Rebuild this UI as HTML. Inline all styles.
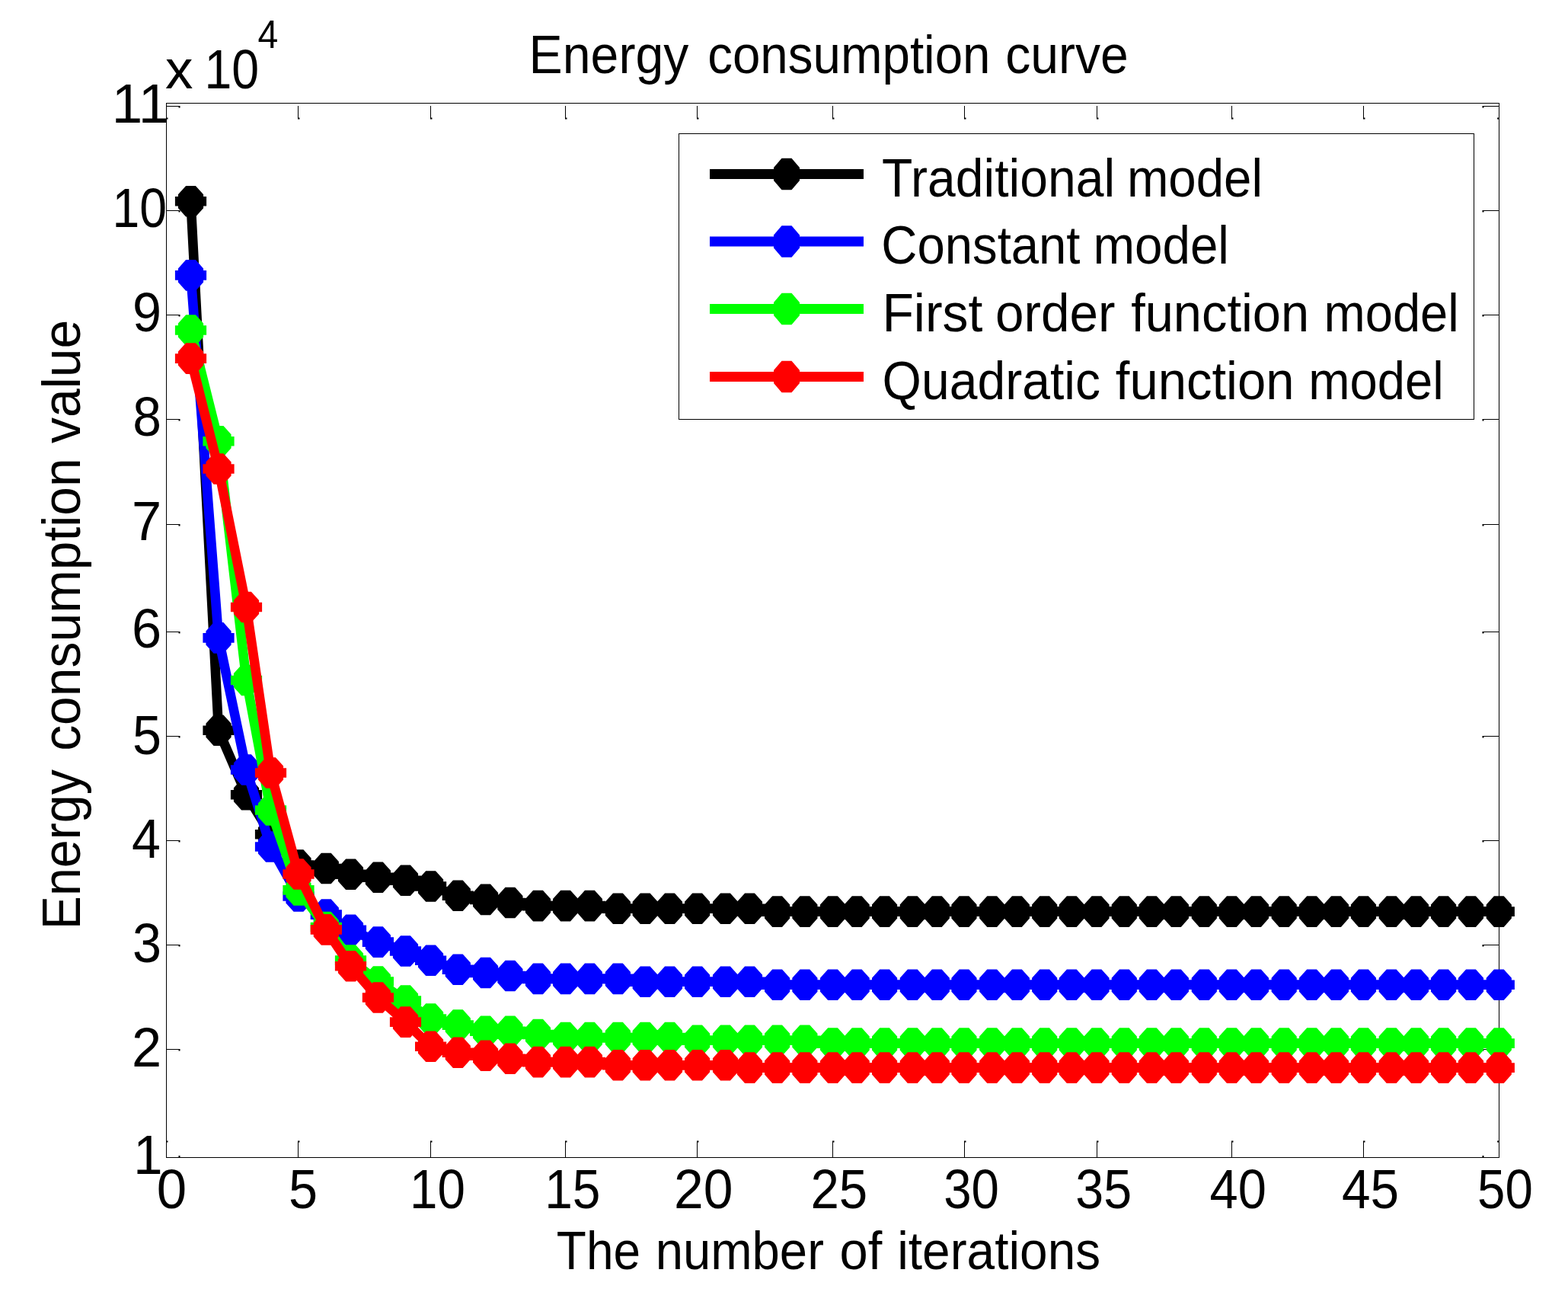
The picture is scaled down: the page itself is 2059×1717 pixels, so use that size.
<!DOCTYPE html>
<html><head><meta charset="utf-8"><title>Energy consumption curve</title>
<style>html,body{margin:0;padding:0;background:#fff;}svg{display:block;}</style>
</head><body>
<svg width="2059" height="1717" viewBox="0 0 2059 1717">
<rect x="0" y="0" width="2059" height="1717" fill="#fff"/>
<rect x="218.5" y="135.5" width="1750.0" height="1384.0" fill="none" stroke="#000" stroke-width="1" shape-rendering="crispEdges"/>
<path d="M218.5,139V156M218.5,1499V1519M391.5,139V156M391.5,1499V1519M565.5,139V156M565.5,1499V1519M742.5,139V156M742.5,1499V1519M915.5,139V156M915.5,1499V1519M1093.5,139V156M1093.5,1499V1519M1266.5,139V156M1266.5,1499V1519M1440.5,139V156M1440.5,1499V1519M1617.5,139V156M1617.5,1499V1519M1790.5,139V156M1790.5,1499V1519M1968.5,139V156M1968.5,1499V1519M219,139.5H236M1947,139.5H1968M219,276.5H236M1947,276.5H1968M219,413.5H236M1947,413.5H1968M219,550.5H236M1947,550.5H1968M219,688.5H236M1947,688.5H1968M219,829.5H236M1947,829.5H1968M219,966.5H236M1947,966.5H1968M219,1103.5H236M1947,1103.5H1968M219,1240.5H236M1947,1240.5H1968M219,1377.5H236M1947,1377.5H1968M219,1519.5H236M1947,1519.5H1968" stroke="#000" stroke-width="1" fill="none" shape-rendering="crispEdges"/>
<path d="M218,154.5h2.5v2h-2.5zM218,1497.5h2.5v2h-2.5zM391,154.5h2.5v2h-2.5zM391,1497.5h2.5v2h-2.5zM565,154.5h2.5v2h-2.5zM565,1497.5h2.5v2h-2.5zM742,154.5h2.5v2h-2.5zM742,1497.5h2.5v2h-2.5zM915,154.5h2.5v2h-2.5zM915,1497.5h2.5v2h-2.5zM1093,154.5h2.5v2h-2.5zM1093,1497.5h2.5v2h-2.5zM1266,154.5h2.5v2h-2.5zM1266,1497.5h2.5v2h-2.5zM1440,154.5h2.5v2h-2.5zM1440,1497.5h2.5v2h-2.5zM1617,154.5h2.5v2h-2.5zM1617,1497.5h2.5v2h-2.5zM1790,154.5h2.5v2h-2.5zM1790,1497.5h2.5v2h-2.5zM1966,154.5h2.5v2h-2.5zM1966,1497.5h2.5v2h-2.5zM234.5,139h2v2.5h-2zM1946.5,139h2v2.5h-2zM234.5,276h2v2.5h-2zM1946.5,276h2v2.5h-2zM234.5,413h2v2.5h-2zM1946.5,413h2v2.5h-2zM234.5,550h2v2.5h-2zM1946.5,550h2v2.5h-2zM234.5,688h2v2.5h-2zM1946.5,688h2v2.5h-2zM234.5,829h2v2.5h-2zM1946.5,829h2v2.5h-2zM234.5,966h2v2.5h-2zM1946.5,966h2v2.5h-2zM234.5,1103h2v2.5h-2zM1946.5,1103h2v2.5h-2zM234.5,1240h2v2.5h-2zM1946.5,1240h2v2.5h-2zM234.5,1377h2v2.5h-2zM1946.5,1377h2v2.5h-2zM234.5,1517h2v2.5h-2zM1946.5,1517h2v2.5h-2z" fill="#000"/>
<polyline points="250.5,264.3 287,958.7 323.5,1043.3 355.5,1095.3 392,1135.5 428.3,1140 460.5,1147.7 496.4,1151.8 532.5,1155.8 565.6,1163.5 601.3,1175.7 637.6,1180.9 669.9,1185.0 706.5,1189.1 742.6,1189.1 774.4,1189.1 811.4,1192.7 847.2,1192.7 879.5,1192.7 915.6,1192.7 952.5,1192.7 984.5,1192.7 1020.6,1196.6 1056.9,1196.6 1093.6,1196.6 1125.2,1196.6 1161.6,1196.6 1198.3,1196.6 1230.3,1196.6 1266,1196.6 1302.7,1196.6 1335.4,1196.6 1371.7,1196.6 1407.3,1196.6 1440,1196.6 1476.3,1196.6 1512.4,1196.6 1544.4,1196.6 1581.3,1196.6 1617.4,1196.6 1649.5,1196.6 1686.2,1196.6 1722.6,1196.6 1754.5,1196.6 1790.5,1196.6 1827.2,1196.6 1859.5,1196.6 1895.6,1196.6 1931.5,1196.6 1968.3,1196.6" fill="none" stroke="#000" stroke-width="12.6" stroke-linejoin="round"/>
<path d="M244.1,244.0L256.9,244.0L267.1,255.3L267.1,258.0L271.1,258.0L271.1,270.6L267.1,270.6L267.1,273.3L256.9,284.6L244.1,284.6L233.9,273.3L233.9,270.6L229.9,270.6L229.9,258.0L233.9,258.0L233.9,255.3ZM280.6,938.4L293.4,938.4L303.6,949.7L303.6,952.4L307.6,952.4L307.6,965.0L303.6,965.0L303.6,967.7L293.4,979.0L280.6,979.0L270.4,967.7L270.4,965.0L266.4,965.0L266.4,952.4L270.4,952.4L270.4,949.7ZM317.1,1023.0L329.9,1023.0L340.1,1034.3L340.1,1037.0L344.1,1037.0L344.1,1049.6L340.1,1049.6L340.1,1052.3L329.9,1063.6L317.1,1063.6L306.9,1052.3L306.9,1049.6L302.9,1049.6L302.9,1037.0L306.9,1037.0L306.9,1034.3ZM349.1,1075.0L361.9,1075.0L372.1,1086.3L372.1,1089.0L376.1,1089.0L376.1,1101.6L372.1,1101.6L372.1,1104.3L361.9,1115.6L349.1,1115.6L338.9,1104.3L338.9,1101.6L334.9,1101.6L334.9,1089.0L338.9,1089.0L338.9,1086.3ZM385.6,1115.2L398.4,1115.2L408.6,1126.5L408.6,1129.2L412.6,1129.2L412.6,1141.8L408.6,1141.8L408.6,1144.5L398.4,1155.8L385.6,1155.8L375.4,1144.5L375.4,1141.8L371.4,1141.8L371.4,1129.2L375.4,1129.2L375.4,1126.5ZM421.9,1119.7L434.7,1119.7L444.9,1131.0L444.9,1133.7L448.9,1133.7L448.9,1146.3L444.9,1146.3L444.9,1149.0L434.7,1160.3L421.9,1160.3L411.7,1149.0L411.7,1146.3L407.7,1146.3L407.7,1133.7L411.7,1133.7L411.7,1131.0ZM454.1,1127.4L466.9,1127.4L477.1,1138.7L477.1,1141.4L481.1,1141.4L481.1,1154.0L477.1,1154.0L477.1,1156.7L466.9,1168.0L454.1,1168.0L443.9,1156.7L443.9,1154.0L439.9,1154.0L439.9,1141.4L443.9,1141.4L443.9,1138.7ZM490.0,1131.5L502.8,1131.5L513.0,1142.8L513.0,1145.5L517.0,1145.5L517.0,1158.1L513.0,1158.1L513.0,1160.8L502.8,1172.1L490.0,1172.1L479.8,1160.8L479.8,1158.1L475.8,1158.1L475.8,1145.5L479.8,1145.5L479.8,1142.8ZM526.1,1135.5L538.9,1135.5L549.1,1146.8L549.1,1149.5L553.1,1149.5L553.1,1162.1L549.1,1162.1L549.1,1164.8L538.9,1176.1L526.1,1176.1L515.9,1164.8L515.9,1162.1L511.9,1162.1L511.9,1149.5L515.9,1149.5L515.9,1146.8ZM559.2,1143.2L572.0,1143.2L582.2,1154.5L582.2,1157.2L586.2,1157.2L586.2,1169.8L582.2,1169.8L582.2,1172.5L572.0,1183.8L559.2,1183.8L549.0,1172.5L549.0,1169.8L545.0,1169.8L545.0,1157.2L549.0,1157.2L549.0,1154.5ZM594.9,1155.4L607.7,1155.4L617.9,1166.7L617.9,1169.4L621.9,1169.4L621.9,1182.0L617.9,1182.0L617.9,1184.7L607.7,1196.0L594.9,1196.0L584.7,1184.7L584.7,1182.0L580.7,1182.0L580.7,1169.4L584.7,1169.4L584.7,1166.7ZM631.2,1160.6L644.0,1160.6L654.2,1171.9L654.2,1174.6L658.2,1174.6L658.2,1187.2L654.2,1187.2L654.2,1189.9L644.0,1201.2L631.2,1201.2L621.0,1189.9L621.0,1187.2L617.0,1187.2L617.0,1174.6L621.0,1174.6L621.0,1171.9ZM663.5,1164.7L676.3,1164.7L686.5,1176.0L686.5,1178.7L690.5,1178.7L690.5,1191.3L686.5,1191.3L686.5,1194.0L676.3,1205.3L663.5,1205.3L653.3,1194.0L653.3,1191.3L649.3,1191.3L649.3,1178.7L653.3,1178.7L653.3,1176.0ZM700.1,1168.8L712.9,1168.8L723.1,1180.1L723.1,1182.8L727.1,1182.8L727.1,1195.4L723.1,1195.4L723.1,1198.1L712.9,1209.4L700.1,1209.4L689.9,1198.1L689.9,1195.4L685.9,1195.4L685.9,1182.8L689.9,1182.8L689.9,1180.1ZM736.2,1168.8L749.0,1168.8L759.2,1180.1L759.2,1182.8L763.2,1182.8L763.2,1195.4L759.2,1195.4L759.2,1198.1L749.0,1209.4L736.2,1209.4L726.0,1198.1L726.0,1195.4L722.0,1195.4L722.0,1182.8L726.0,1182.8L726.0,1180.1ZM768.0,1168.8L780.8,1168.8L791.0,1180.1L791.0,1182.8L795.0,1182.8L795.0,1195.4L791.0,1195.4L791.0,1198.1L780.8,1209.4L768.0,1209.4L757.8,1198.1L757.8,1195.4L753.8,1195.4L753.8,1182.8L757.8,1182.8L757.8,1180.1ZM805.0,1172.4L817.8,1172.4L828.0,1183.7L828.0,1186.4L832.0,1186.4L832.0,1199.0L828.0,1199.0L828.0,1201.7L817.8,1213.0L805.0,1213.0L794.8,1201.7L794.8,1199.0L790.8,1199.0L790.8,1186.4L794.8,1186.4L794.8,1183.7ZM840.8,1172.4L853.6,1172.4L863.8,1183.7L863.8,1186.4L867.8,1186.4L867.8,1199.0L863.8,1199.0L863.8,1201.7L853.6,1213.0L840.8,1213.0L830.6,1201.7L830.6,1199.0L826.6,1199.0L826.6,1186.4L830.6,1186.4L830.6,1183.7ZM873.1,1172.4L885.9,1172.4L896.1,1183.7L896.1,1186.4L900.1,1186.4L900.1,1199.0L896.1,1199.0L896.1,1201.7L885.9,1213.0L873.1,1213.0L862.9,1201.7L862.9,1199.0L858.9,1199.0L858.9,1186.4L862.9,1186.4L862.9,1183.7ZM909.2,1172.4L922.0,1172.4L932.2,1183.7L932.2,1186.4L936.2,1186.4L936.2,1199.0L932.2,1199.0L932.2,1201.7L922.0,1213.0L909.2,1213.0L899.0,1201.7L899.0,1199.0L895.0,1199.0L895.0,1186.4L899.0,1186.4L899.0,1183.7ZM946.1,1172.4L958.9,1172.4L969.1,1183.7L969.1,1186.4L973.1,1186.4L973.1,1199.0L969.1,1199.0L969.1,1201.7L958.9,1213.0L946.1,1213.0L935.9,1201.7L935.9,1199.0L931.9,1199.0L931.9,1186.4L935.9,1186.4L935.9,1183.7ZM978.1,1172.4L990.9,1172.4L1001.1,1183.7L1001.1,1186.4L1005.1,1186.4L1005.1,1199.0L1001.1,1199.0L1001.1,1201.7L990.9,1213.0L978.1,1213.0L967.9,1201.7L967.9,1199.0L963.9,1199.0L963.9,1186.4L967.9,1186.4L967.9,1183.7ZM1014.2,1176.3L1027.0,1176.3L1037.2,1187.6L1037.2,1190.3L1041.2,1190.3L1041.2,1202.9L1037.2,1202.9L1037.2,1205.6L1027.0,1216.9L1014.2,1216.9L1004.0,1205.6L1004.0,1202.9L1000.0,1202.9L1000.0,1190.3L1004.0,1190.3L1004.0,1187.6ZM1050.5,1176.3L1063.3,1176.3L1073.5,1187.6L1073.5,1190.3L1077.5,1190.3L1077.5,1202.9L1073.5,1202.9L1073.5,1205.6L1063.3,1216.9L1050.5,1216.9L1040.3,1205.6L1040.3,1202.9L1036.3,1202.9L1036.3,1190.3L1040.3,1190.3L1040.3,1187.6ZM1087.2,1176.3L1100.0,1176.3L1110.2,1187.6L1110.2,1190.3L1114.2,1190.3L1114.2,1202.9L1110.2,1202.9L1110.2,1205.6L1100.0,1216.9L1087.2,1216.9L1077.0,1205.6L1077.0,1202.9L1073.0,1202.9L1073.0,1190.3L1077.0,1190.3L1077.0,1187.6ZM1118.8,1176.3L1131.6,1176.3L1141.8,1187.6L1141.8,1190.3L1145.8,1190.3L1145.8,1202.9L1141.8,1202.9L1141.8,1205.6L1131.6,1216.9L1118.8,1216.9L1108.6,1205.6L1108.6,1202.9L1104.6,1202.9L1104.6,1190.3L1108.6,1190.3L1108.6,1187.6ZM1155.2,1176.3L1168.0,1176.3L1178.2,1187.6L1178.2,1190.3L1182.2,1190.3L1182.2,1202.9L1178.2,1202.9L1178.2,1205.6L1168.0,1216.9L1155.2,1216.9L1145.0,1205.6L1145.0,1202.9L1141.0,1202.9L1141.0,1190.3L1145.0,1190.3L1145.0,1187.6ZM1191.9,1176.3L1204.7,1176.3L1214.9,1187.6L1214.9,1190.3L1218.9,1190.3L1218.9,1202.9L1214.9,1202.9L1214.9,1205.6L1204.7,1216.9L1191.9,1216.9L1181.7,1205.6L1181.7,1202.9L1177.7,1202.9L1177.7,1190.3L1181.7,1190.3L1181.7,1187.6ZM1223.9,1176.3L1236.7,1176.3L1246.9,1187.6L1246.9,1190.3L1250.9,1190.3L1250.9,1202.9L1246.9,1202.9L1246.9,1205.6L1236.7,1216.9L1223.9,1216.9L1213.7,1205.6L1213.7,1202.9L1209.7,1202.9L1209.7,1190.3L1213.7,1190.3L1213.7,1187.6ZM1259.6,1176.3L1272.4,1176.3L1282.6,1187.6L1282.6,1190.3L1286.6,1190.3L1286.6,1202.9L1282.6,1202.9L1282.6,1205.6L1272.4,1216.9L1259.6,1216.9L1249.4,1205.6L1249.4,1202.9L1245.4,1202.9L1245.4,1190.3L1249.4,1190.3L1249.4,1187.6ZM1296.3,1176.3L1309.1,1176.3L1319.3,1187.6L1319.3,1190.3L1323.3,1190.3L1323.3,1202.9L1319.3,1202.9L1319.3,1205.6L1309.1,1216.9L1296.3,1216.9L1286.1,1205.6L1286.1,1202.9L1282.1,1202.9L1282.1,1190.3L1286.1,1190.3L1286.1,1187.6ZM1329.0,1176.3L1341.8,1176.3L1352.0,1187.6L1352.0,1190.3L1356.0,1190.3L1356.0,1202.9L1352.0,1202.9L1352.0,1205.6L1341.8,1216.9L1329.0,1216.9L1318.8,1205.6L1318.8,1202.9L1314.8,1202.9L1314.8,1190.3L1318.8,1190.3L1318.8,1187.6ZM1365.3,1176.3L1378.1,1176.3L1388.3,1187.6L1388.3,1190.3L1392.3,1190.3L1392.3,1202.9L1388.3,1202.9L1388.3,1205.6L1378.1,1216.9L1365.3,1216.9L1355.1,1205.6L1355.1,1202.9L1351.1,1202.9L1351.1,1190.3L1355.1,1190.3L1355.1,1187.6ZM1400.9,1176.3L1413.7,1176.3L1423.9,1187.6L1423.9,1190.3L1427.9,1190.3L1427.9,1202.9L1423.9,1202.9L1423.9,1205.6L1413.7,1216.9L1400.9,1216.9L1390.7,1205.6L1390.7,1202.9L1386.7,1202.9L1386.7,1190.3L1390.7,1190.3L1390.7,1187.6ZM1433.6,1176.3L1446.4,1176.3L1456.6,1187.6L1456.6,1190.3L1460.6,1190.3L1460.6,1202.9L1456.6,1202.9L1456.6,1205.6L1446.4,1216.9L1433.6,1216.9L1423.4,1205.6L1423.4,1202.9L1419.4,1202.9L1419.4,1190.3L1423.4,1190.3L1423.4,1187.6ZM1469.9,1176.3L1482.7,1176.3L1492.9,1187.6L1492.9,1190.3L1496.9,1190.3L1496.9,1202.9L1492.9,1202.9L1492.9,1205.6L1482.7,1216.9L1469.9,1216.9L1459.7,1205.6L1459.7,1202.9L1455.7,1202.9L1455.7,1190.3L1459.7,1190.3L1459.7,1187.6ZM1506.0,1176.3L1518.8,1176.3L1529.0,1187.6L1529.0,1190.3L1533.0,1190.3L1533.0,1202.9L1529.0,1202.9L1529.0,1205.6L1518.8,1216.9L1506.0,1216.9L1495.8,1205.6L1495.8,1202.9L1491.8,1202.9L1491.8,1190.3L1495.8,1190.3L1495.8,1187.6ZM1538.0,1176.3L1550.8,1176.3L1561.0,1187.6L1561.0,1190.3L1565.0,1190.3L1565.0,1202.9L1561.0,1202.9L1561.0,1205.6L1550.8,1216.9L1538.0,1216.9L1527.8,1205.6L1527.8,1202.9L1523.8,1202.9L1523.8,1190.3L1527.8,1190.3L1527.8,1187.6ZM1574.9,1176.3L1587.7,1176.3L1597.9,1187.6L1597.9,1190.3L1601.9,1190.3L1601.9,1202.9L1597.9,1202.9L1597.9,1205.6L1587.7,1216.9L1574.9,1216.9L1564.7,1205.6L1564.7,1202.9L1560.7,1202.9L1560.7,1190.3L1564.7,1190.3L1564.7,1187.6ZM1611.0,1176.3L1623.8,1176.3L1634.0,1187.6L1634.0,1190.3L1638.0,1190.3L1638.0,1202.9L1634.0,1202.9L1634.0,1205.6L1623.8,1216.9L1611.0,1216.9L1600.8,1205.6L1600.8,1202.9L1596.8,1202.9L1596.8,1190.3L1600.8,1190.3L1600.8,1187.6ZM1643.1,1176.3L1655.9,1176.3L1666.1,1187.6L1666.1,1190.3L1670.1,1190.3L1670.1,1202.9L1666.1,1202.9L1666.1,1205.6L1655.9,1216.9L1643.1,1216.9L1632.9,1205.6L1632.9,1202.9L1628.9,1202.9L1628.9,1190.3L1632.9,1190.3L1632.9,1187.6ZM1679.8,1176.3L1692.6,1176.3L1702.8,1187.6L1702.8,1190.3L1706.8,1190.3L1706.8,1202.9L1702.8,1202.9L1702.8,1205.6L1692.6,1216.9L1679.8,1216.9L1669.6,1205.6L1669.6,1202.9L1665.6,1202.9L1665.6,1190.3L1669.6,1190.3L1669.6,1187.6ZM1716.2,1176.3L1729.0,1176.3L1739.2,1187.6L1739.2,1190.3L1743.2,1190.3L1743.2,1202.9L1739.2,1202.9L1739.2,1205.6L1729.0,1216.9L1716.2,1216.9L1706.0,1205.6L1706.0,1202.9L1702.0,1202.9L1702.0,1190.3L1706.0,1190.3L1706.0,1187.6ZM1748.1,1176.3L1760.9,1176.3L1771.1,1187.6L1771.1,1190.3L1775.1,1190.3L1775.1,1202.9L1771.1,1202.9L1771.1,1205.6L1760.9,1216.9L1748.1,1216.9L1737.9,1205.6L1737.9,1202.9L1733.9,1202.9L1733.9,1190.3L1737.9,1190.3L1737.9,1187.6ZM1784.1,1176.3L1796.9,1176.3L1807.1,1187.6L1807.1,1190.3L1811.1,1190.3L1811.1,1202.9L1807.1,1202.9L1807.1,1205.6L1796.9,1216.9L1784.1,1216.9L1773.9,1205.6L1773.9,1202.9L1769.9,1202.9L1769.9,1190.3L1773.9,1190.3L1773.9,1187.6ZM1820.8,1176.3L1833.6,1176.3L1843.8,1187.6L1843.8,1190.3L1847.8,1190.3L1847.8,1202.9L1843.8,1202.9L1843.8,1205.6L1833.6,1216.9L1820.8,1216.9L1810.6,1205.6L1810.6,1202.9L1806.6,1202.9L1806.6,1190.3L1810.6,1190.3L1810.6,1187.6ZM1853.1,1176.3L1865.9,1176.3L1876.1,1187.6L1876.1,1190.3L1880.1,1190.3L1880.1,1202.9L1876.1,1202.9L1876.1,1205.6L1865.9,1216.9L1853.1,1216.9L1842.9,1205.6L1842.9,1202.9L1838.9,1202.9L1838.9,1190.3L1842.9,1190.3L1842.9,1187.6ZM1889.2,1176.3L1902.0,1176.3L1912.2,1187.6L1912.2,1190.3L1916.2,1190.3L1916.2,1202.9L1912.2,1202.9L1912.2,1205.6L1902.0,1216.9L1889.2,1216.9L1879.0,1205.6L1879.0,1202.9L1875.0,1202.9L1875.0,1190.3L1879.0,1190.3L1879.0,1187.6ZM1925.1,1176.3L1937.9,1176.3L1948.1,1187.6L1948.1,1190.3L1952.1,1190.3L1952.1,1202.9L1948.1,1202.9L1948.1,1205.6L1937.9,1216.9L1925.1,1216.9L1914.9,1205.6L1914.9,1202.9L1910.9,1202.9L1910.9,1190.3L1914.9,1190.3L1914.9,1187.6ZM1961.9,1176.3L1974.7,1176.3L1984.9,1187.6L1984.9,1190.3L1988.9,1190.3L1988.9,1202.9L1984.9,1202.9L1984.9,1205.6L1974.7,1216.9L1961.9,1216.9L1951.7,1205.6L1951.7,1202.9L1947.7,1202.9L1947.7,1190.3L1951.7,1190.3L1951.7,1187.6Z" fill="#000"/>
<polyline points="250.5,361.4 287,837.4 323.5,1010.5 355.5,1111.5 392,1176.5 428.3,1200.6 460.5,1220.7 496.4,1236.6 532.5,1248.5 565.6,1260.8 601.3,1272.8 637.6,1277.0 669.9,1281.0 706.5,1284.9 742.6,1284.9 774.4,1284.9 811.4,1284.9 847.2,1288.8 879.5,1288.8 915.6,1288.8 952.5,1288.8 984.5,1288.8 1020.6,1292.7 1056.9,1292.7 1093.6,1292.7 1125.2,1292.7 1161.6,1292.7 1198.3,1292.7 1230.3,1292.7 1266,1292.7 1302.7,1292.7 1335.4,1292.7 1371.7,1292.7 1407.3,1292.7 1440,1292.7 1476.3,1292.7 1512.4,1292.7 1544.4,1292.7 1581.3,1292.7 1617.4,1292.7 1649.5,1292.7 1686.2,1292.7 1722.6,1292.7 1754.5,1292.7 1790.5,1292.7 1827.2,1292.7 1859.5,1292.7 1895.6,1292.7 1931.5,1292.7 1968.3,1292.7" fill="none" stroke="#00f" stroke-width="12.6" stroke-linejoin="round"/>
<path d="M244.1,341.1L256.9,341.1L267.1,352.4L267.1,355.1L271.1,355.1L271.1,367.7L267.1,367.7L267.1,370.4L256.9,381.7L244.1,381.7L233.9,370.4L233.9,367.7L229.9,367.7L229.9,355.1L233.9,355.1L233.9,352.4ZM280.6,817.1L293.4,817.1L303.6,828.4L303.6,831.1L307.6,831.1L307.6,843.7L303.6,843.7L303.6,846.4L293.4,857.7L280.6,857.7L270.4,846.4L270.4,843.7L266.4,843.7L266.4,831.1L270.4,831.1L270.4,828.4ZM317.1,990.2L329.9,990.2L340.1,1001.5L340.1,1004.2L344.1,1004.2L344.1,1016.8L340.1,1016.8L340.1,1019.5L329.9,1030.8L317.1,1030.8L306.9,1019.5L306.9,1016.8L302.9,1016.8L302.9,1004.2L306.9,1004.2L306.9,1001.5ZM349.1,1091.2L361.9,1091.2L372.1,1102.5L372.1,1105.2L376.1,1105.2L376.1,1117.8L372.1,1117.8L372.1,1120.5L361.9,1131.8L349.1,1131.8L338.9,1120.5L338.9,1117.8L334.9,1117.8L334.9,1105.2L338.9,1105.2L338.9,1102.5ZM385.6,1156.2L398.4,1156.2L408.6,1167.5L408.6,1170.2L412.6,1170.2L412.6,1182.8L408.6,1182.8L408.6,1185.5L398.4,1196.8L385.6,1196.8L375.4,1185.5L375.4,1182.8L371.4,1182.8L371.4,1170.2L375.4,1170.2L375.4,1167.5ZM421.9,1180.3L434.7,1180.3L444.9,1191.6L444.9,1194.3L448.9,1194.3L448.9,1206.9L444.9,1206.9L444.9,1209.6L434.7,1220.9L421.9,1220.9L411.7,1209.6L411.7,1206.9L407.7,1206.9L407.7,1194.3L411.7,1194.3L411.7,1191.6ZM454.1,1200.4L466.9,1200.4L477.1,1211.7L477.1,1214.4L481.1,1214.4L481.1,1227.0L477.1,1227.0L477.1,1229.7L466.9,1241.0L454.1,1241.0L443.9,1229.7L443.9,1227.0L439.9,1227.0L439.9,1214.4L443.9,1214.4L443.9,1211.7ZM490.0,1216.3L502.8,1216.3L513.0,1227.6L513.0,1230.3L517.0,1230.3L517.0,1242.9L513.0,1242.9L513.0,1245.6L502.8,1256.9L490.0,1256.9L479.8,1245.6L479.8,1242.9L475.8,1242.9L475.8,1230.3L479.8,1230.3L479.8,1227.6ZM526.1,1228.2L538.9,1228.2L549.1,1239.5L549.1,1242.2L553.1,1242.2L553.1,1254.8L549.1,1254.8L549.1,1257.5L538.9,1268.8L526.1,1268.8L515.9,1257.5L515.9,1254.8L511.9,1254.8L511.9,1242.2L515.9,1242.2L515.9,1239.5ZM559.2,1240.5L572.0,1240.5L582.2,1251.8L582.2,1254.5L586.2,1254.5L586.2,1267.1L582.2,1267.1L582.2,1269.8L572.0,1281.1L559.2,1281.1L549.0,1269.8L549.0,1267.1L545.0,1267.1L545.0,1254.5L549.0,1254.5L549.0,1251.8ZM594.9,1252.5L607.7,1252.5L617.9,1263.8L617.9,1266.5L621.9,1266.5L621.9,1279.1L617.9,1279.1L617.9,1281.8L607.7,1293.1L594.9,1293.1L584.7,1281.8L584.7,1279.1L580.7,1279.1L580.7,1266.5L584.7,1266.5L584.7,1263.8ZM631.2,1256.7L644.0,1256.7L654.2,1268.0L654.2,1270.7L658.2,1270.7L658.2,1283.3L654.2,1283.3L654.2,1286.0L644.0,1297.3L631.2,1297.3L621.0,1286.0L621.0,1283.3L617.0,1283.3L617.0,1270.7L621.0,1270.7L621.0,1268.0ZM663.5,1260.7L676.3,1260.7L686.5,1272.0L686.5,1274.7L690.5,1274.7L690.5,1287.3L686.5,1287.3L686.5,1290.0L676.3,1301.3L663.5,1301.3L653.3,1290.0L653.3,1287.3L649.3,1287.3L649.3,1274.7L653.3,1274.7L653.3,1272.0ZM700.1,1264.6L712.9,1264.6L723.1,1275.9L723.1,1278.6L727.1,1278.6L727.1,1291.2L723.1,1291.2L723.1,1293.9L712.9,1305.2L700.1,1305.2L689.9,1293.9L689.9,1291.2L685.9,1291.2L685.9,1278.6L689.9,1278.6L689.9,1275.9ZM736.2,1264.6L749.0,1264.6L759.2,1275.9L759.2,1278.6L763.2,1278.6L763.2,1291.2L759.2,1291.2L759.2,1293.9L749.0,1305.2L736.2,1305.2L726.0,1293.9L726.0,1291.2L722.0,1291.2L722.0,1278.6L726.0,1278.6L726.0,1275.9ZM768.0,1264.6L780.8,1264.6L791.0,1275.9L791.0,1278.6L795.0,1278.6L795.0,1291.2L791.0,1291.2L791.0,1293.9L780.8,1305.2L768.0,1305.2L757.8,1293.9L757.8,1291.2L753.8,1291.2L753.8,1278.6L757.8,1278.6L757.8,1275.9ZM805.0,1264.6L817.8,1264.6L828.0,1275.9L828.0,1278.6L832.0,1278.6L832.0,1291.2L828.0,1291.2L828.0,1293.9L817.8,1305.2L805.0,1305.2L794.8,1293.9L794.8,1291.2L790.8,1291.2L790.8,1278.6L794.8,1278.6L794.8,1275.9ZM840.8,1268.5L853.6,1268.5L863.8,1279.8L863.8,1282.5L867.8,1282.5L867.8,1295.1L863.8,1295.1L863.8,1297.8L853.6,1309.1L840.8,1309.1L830.6,1297.8L830.6,1295.1L826.6,1295.1L826.6,1282.5L830.6,1282.5L830.6,1279.8ZM873.1,1268.5L885.9,1268.5L896.1,1279.8L896.1,1282.5L900.1,1282.5L900.1,1295.1L896.1,1295.1L896.1,1297.8L885.9,1309.1L873.1,1309.1L862.9,1297.8L862.9,1295.1L858.9,1295.1L858.9,1282.5L862.9,1282.5L862.9,1279.8ZM909.2,1268.5L922.0,1268.5L932.2,1279.8L932.2,1282.5L936.2,1282.5L936.2,1295.1L932.2,1295.1L932.2,1297.8L922.0,1309.1L909.2,1309.1L899.0,1297.8L899.0,1295.1L895.0,1295.1L895.0,1282.5L899.0,1282.5L899.0,1279.8ZM946.1,1268.5L958.9,1268.5L969.1,1279.8L969.1,1282.5L973.1,1282.5L973.1,1295.1L969.1,1295.1L969.1,1297.8L958.9,1309.1L946.1,1309.1L935.9,1297.8L935.9,1295.1L931.9,1295.1L931.9,1282.5L935.9,1282.5L935.9,1279.8ZM978.1,1268.5L990.9,1268.5L1001.1,1279.8L1001.1,1282.5L1005.1,1282.5L1005.1,1295.1L1001.1,1295.1L1001.1,1297.8L990.9,1309.1L978.1,1309.1L967.9,1297.8L967.9,1295.1L963.9,1295.1L963.9,1282.5L967.9,1282.5L967.9,1279.8ZM1014.2,1272.4L1027.0,1272.4L1037.2,1283.7L1037.2,1286.4L1041.2,1286.4L1041.2,1299.0L1037.2,1299.0L1037.2,1301.7L1027.0,1313.0L1014.2,1313.0L1004.0,1301.7L1004.0,1299.0L1000.0,1299.0L1000.0,1286.4L1004.0,1286.4L1004.0,1283.7ZM1050.5,1272.4L1063.3,1272.4L1073.5,1283.7L1073.5,1286.4L1077.5,1286.4L1077.5,1299.0L1073.5,1299.0L1073.5,1301.7L1063.3,1313.0L1050.5,1313.0L1040.3,1301.7L1040.3,1299.0L1036.3,1299.0L1036.3,1286.4L1040.3,1286.4L1040.3,1283.7ZM1087.2,1272.4L1100.0,1272.4L1110.2,1283.7L1110.2,1286.4L1114.2,1286.4L1114.2,1299.0L1110.2,1299.0L1110.2,1301.7L1100.0,1313.0L1087.2,1313.0L1077.0,1301.7L1077.0,1299.0L1073.0,1299.0L1073.0,1286.4L1077.0,1286.4L1077.0,1283.7ZM1118.8,1272.4L1131.6,1272.4L1141.8,1283.7L1141.8,1286.4L1145.8,1286.4L1145.8,1299.0L1141.8,1299.0L1141.8,1301.7L1131.6,1313.0L1118.8,1313.0L1108.6,1301.7L1108.6,1299.0L1104.6,1299.0L1104.6,1286.4L1108.6,1286.4L1108.6,1283.7ZM1155.2,1272.4L1168.0,1272.4L1178.2,1283.7L1178.2,1286.4L1182.2,1286.4L1182.2,1299.0L1178.2,1299.0L1178.2,1301.7L1168.0,1313.0L1155.2,1313.0L1145.0,1301.7L1145.0,1299.0L1141.0,1299.0L1141.0,1286.4L1145.0,1286.4L1145.0,1283.7ZM1191.9,1272.4L1204.7,1272.4L1214.9,1283.7L1214.9,1286.4L1218.9,1286.4L1218.9,1299.0L1214.9,1299.0L1214.9,1301.7L1204.7,1313.0L1191.9,1313.0L1181.7,1301.7L1181.7,1299.0L1177.7,1299.0L1177.7,1286.4L1181.7,1286.4L1181.7,1283.7ZM1223.9,1272.4L1236.7,1272.4L1246.9,1283.7L1246.9,1286.4L1250.9,1286.4L1250.9,1299.0L1246.9,1299.0L1246.9,1301.7L1236.7,1313.0L1223.9,1313.0L1213.7,1301.7L1213.7,1299.0L1209.7,1299.0L1209.7,1286.4L1213.7,1286.4L1213.7,1283.7ZM1259.6,1272.4L1272.4,1272.4L1282.6,1283.7L1282.6,1286.4L1286.6,1286.4L1286.6,1299.0L1282.6,1299.0L1282.6,1301.7L1272.4,1313.0L1259.6,1313.0L1249.4,1301.7L1249.4,1299.0L1245.4,1299.0L1245.4,1286.4L1249.4,1286.4L1249.4,1283.7ZM1296.3,1272.4L1309.1,1272.4L1319.3,1283.7L1319.3,1286.4L1323.3,1286.4L1323.3,1299.0L1319.3,1299.0L1319.3,1301.7L1309.1,1313.0L1296.3,1313.0L1286.1,1301.7L1286.1,1299.0L1282.1,1299.0L1282.1,1286.4L1286.1,1286.4L1286.1,1283.7ZM1329.0,1272.4L1341.8,1272.4L1352.0,1283.7L1352.0,1286.4L1356.0,1286.4L1356.0,1299.0L1352.0,1299.0L1352.0,1301.7L1341.8,1313.0L1329.0,1313.0L1318.8,1301.7L1318.8,1299.0L1314.8,1299.0L1314.8,1286.4L1318.8,1286.4L1318.8,1283.7ZM1365.3,1272.4L1378.1,1272.4L1388.3,1283.7L1388.3,1286.4L1392.3,1286.4L1392.3,1299.0L1388.3,1299.0L1388.3,1301.7L1378.1,1313.0L1365.3,1313.0L1355.1,1301.7L1355.1,1299.0L1351.1,1299.0L1351.1,1286.4L1355.1,1286.4L1355.1,1283.7ZM1400.9,1272.4L1413.7,1272.4L1423.9,1283.7L1423.9,1286.4L1427.9,1286.4L1427.9,1299.0L1423.9,1299.0L1423.9,1301.7L1413.7,1313.0L1400.9,1313.0L1390.7,1301.7L1390.7,1299.0L1386.7,1299.0L1386.7,1286.4L1390.7,1286.4L1390.7,1283.7ZM1433.6,1272.4L1446.4,1272.4L1456.6,1283.7L1456.6,1286.4L1460.6,1286.4L1460.6,1299.0L1456.6,1299.0L1456.6,1301.7L1446.4,1313.0L1433.6,1313.0L1423.4,1301.7L1423.4,1299.0L1419.4,1299.0L1419.4,1286.4L1423.4,1286.4L1423.4,1283.7ZM1469.9,1272.4L1482.7,1272.4L1492.9,1283.7L1492.9,1286.4L1496.9,1286.4L1496.9,1299.0L1492.9,1299.0L1492.9,1301.7L1482.7,1313.0L1469.9,1313.0L1459.7,1301.7L1459.7,1299.0L1455.7,1299.0L1455.7,1286.4L1459.7,1286.4L1459.7,1283.7ZM1506.0,1272.4L1518.8,1272.4L1529.0,1283.7L1529.0,1286.4L1533.0,1286.4L1533.0,1299.0L1529.0,1299.0L1529.0,1301.7L1518.8,1313.0L1506.0,1313.0L1495.8,1301.7L1495.8,1299.0L1491.8,1299.0L1491.8,1286.4L1495.8,1286.4L1495.8,1283.7ZM1538.0,1272.4L1550.8,1272.4L1561.0,1283.7L1561.0,1286.4L1565.0,1286.4L1565.0,1299.0L1561.0,1299.0L1561.0,1301.7L1550.8,1313.0L1538.0,1313.0L1527.8,1301.7L1527.8,1299.0L1523.8,1299.0L1523.8,1286.4L1527.8,1286.4L1527.8,1283.7ZM1574.9,1272.4L1587.7,1272.4L1597.9,1283.7L1597.9,1286.4L1601.9,1286.4L1601.9,1299.0L1597.9,1299.0L1597.9,1301.7L1587.7,1313.0L1574.9,1313.0L1564.7,1301.7L1564.7,1299.0L1560.7,1299.0L1560.7,1286.4L1564.7,1286.4L1564.7,1283.7ZM1611.0,1272.4L1623.8,1272.4L1634.0,1283.7L1634.0,1286.4L1638.0,1286.4L1638.0,1299.0L1634.0,1299.0L1634.0,1301.7L1623.8,1313.0L1611.0,1313.0L1600.8,1301.7L1600.8,1299.0L1596.8,1299.0L1596.8,1286.4L1600.8,1286.4L1600.8,1283.7ZM1643.1,1272.4L1655.9,1272.4L1666.1,1283.7L1666.1,1286.4L1670.1,1286.4L1670.1,1299.0L1666.1,1299.0L1666.1,1301.7L1655.9,1313.0L1643.1,1313.0L1632.9,1301.7L1632.9,1299.0L1628.9,1299.0L1628.9,1286.4L1632.9,1286.4L1632.9,1283.7ZM1679.8,1272.4L1692.6,1272.4L1702.8,1283.7L1702.8,1286.4L1706.8,1286.4L1706.8,1299.0L1702.8,1299.0L1702.8,1301.7L1692.6,1313.0L1679.8,1313.0L1669.6,1301.7L1669.6,1299.0L1665.6,1299.0L1665.6,1286.4L1669.6,1286.4L1669.6,1283.7ZM1716.2,1272.4L1729.0,1272.4L1739.2,1283.7L1739.2,1286.4L1743.2,1286.4L1743.2,1299.0L1739.2,1299.0L1739.2,1301.7L1729.0,1313.0L1716.2,1313.0L1706.0,1301.7L1706.0,1299.0L1702.0,1299.0L1702.0,1286.4L1706.0,1286.4L1706.0,1283.7ZM1748.1,1272.4L1760.9,1272.4L1771.1,1283.7L1771.1,1286.4L1775.1,1286.4L1775.1,1299.0L1771.1,1299.0L1771.1,1301.7L1760.9,1313.0L1748.1,1313.0L1737.9,1301.7L1737.9,1299.0L1733.9,1299.0L1733.9,1286.4L1737.9,1286.4L1737.9,1283.7ZM1784.1,1272.4L1796.9,1272.4L1807.1,1283.7L1807.1,1286.4L1811.1,1286.4L1811.1,1299.0L1807.1,1299.0L1807.1,1301.7L1796.9,1313.0L1784.1,1313.0L1773.9,1301.7L1773.9,1299.0L1769.9,1299.0L1769.9,1286.4L1773.9,1286.4L1773.9,1283.7ZM1820.8,1272.4L1833.6,1272.4L1843.8,1283.7L1843.8,1286.4L1847.8,1286.4L1847.8,1299.0L1843.8,1299.0L1843.8,1301.7L1833.6,1313.0L1820.8,1313.0L1810.6,1301.7L1810.6,1299.0L1806.6,1299.0L1806.6,1286.4L1810.6,1286.4L1810.6,1283.7ZM1853.1,1272.4L1865.9,1272.4L1876.1,1283.7L1876.1,1286.4L1880.1,1286.4L1880.1,1299.0L1876.1,1299.0L1876.1,1301.7L1865.9,1313.0L1853.1,1313.0L1842.9,1301.7L1842.9,1299.0L1838.9,1299.0L1838.9,1286.4L1842.9,1286.4L1842.9,1283.7ZM1889.2,1272.4L1902.0,1272.4L1912.2,1283.7L1912.2,1286.4L1916.2,1286.4L1916.2,1299.0L1912.2,1299.0L1912.2,1301.7L1902.0,1313.0L1889.2,1313.0L1879.0,1301.7L1879.0,1299.0L1875.0,1299.0L1875.0,1286.4L1879.0,1286.4L1879.0,1283.7ZM1925.1,1272.4L1937.9,1272.4L1948.1,1283.7L1948.1,1286.4L1952.1,1286.4L1952.1,1299.0L1948.1,1299.0L1948.1,1301.7L1937.9,1313.0L1925.1,1313.0L1914.9,1301.7L1914.9,1299.0L1910.9,1299.0L1910.9,1286.4L1914.9,1286.4L1914.9,1283.7ZM1961.9,1272.4L1974.7,1272.4L1984.9,1283.7L1984.9,1286.4L1988.9,1286.4L1988.9,1299.0L1984.9,1299.0L1984.9,1301.7L1974.7,1313.0L1961.9,1313.0L1951.7,1301.7L1951.7,1299.0L1947.7,1299.0L1947.7,1286.4L1951.7,1286.4L1951.7,1283.7Z" fill="#00f"/>
<polyline points="250.5,433.5 287,579.3 323.5,893.0 355.5,1063.5 392,1168.4 428.3,1217.0 460.5,1260.6 496.4,1288.5 532.5,1313.6 565.6,1337.6 601.3,1345.6 637.6,1353.8 669.9,1353.8 706.5,1358.0 742.6,1362.1 774.4,1362.1 811.4,1362.1 847.2,1362.1 879.5,1362.1 915.6,1365.8 952.5,1365.8 984.5,1365.8 1020.6,1365.8 1056.9,1365.8 1093.6,1369.6 1125.2,1369.6 1161.6,1369.6 1198.3,1369.6 1230.3,1369.6 1266,1369.6 1302.7,1369.6 1335.4,1369.6 1371.7,1369.6 1407.3,1369.6 1440,1369.6 1476.3,1369.6 1512.4,1369.6 1544.4,1369.6 1581.3,1369.6 1617.4,1369.6 1649.5,1369.6 1686.2,1369.6 1722.6,1369.6 1754.5,1369.6 1790.5,1369.6 1827.2,1369.6 1859.5,1369.6 1895.6,1369.6 1931.5,1369.6 1968.3,1369.6" fill="none" stroke="#0f0" stroke-width="12.6" stroke-linejoin="round"/>
<path d="M244.1,413.2L256.9,413.2L267.1,424.5L267.1,427.2L271.1,427.2L271.1,439.8L267.1,439.8L267.1,442.5L256.9,453.8L244.1,453.8L233.9,442.5L233.9,439.8L229.9,439.8L229.9,427.2L233.9,427.2L233.9,424.5ZM280.6,559.0L293.4,559.0L303.6,570.3L303.6,573.0L307.6,573.0L307.6,585.6L303.6,585.6L303.6,588.3L293.4,599.6L280.6,599.6L270.4,588.3L270.4,585.6L266.4,585.6L266.4,573.0L270.4,573.0L270.4,570.3ZM317.1,872.7L329.9,872.7L340.1,884.0L340.1,886.7L344.1,886.7L344.1,899.3L340.1,899.3L340.1,902.0L329.9,913.3L317.1,913.3L306.9,902.0L306.9,899.3L302.9,899.3L302.9,886.7L306.9,886.7L306.9,884.0ZM349.1,1043.2L361.9,1043.2L372.1,1054.5L372.1,1057.2L376.1,1057.2L376.1,1069.8L372.1,1069.8L372.1,1072.5L361.9,1083.8L349.1,1083.8L338.9,1072.5L338.9,1069.8L334.9,1069.8L334.9,1057.2L338.9,1057.2L338.9,1054.5ZM385.6,1148.1L398.4,1148.1L408.6,1159.4L408.6,1162.1L412.6,1162.1L412.6,1174.7L408.6,1174.7L408.6,1177.4L398.4,1188.7L385.6,1188.7L375.4,1177.4L375.4,1174.7L371.4,1174.7L371.4,1162.1L375.4,1162.1L375.4,1159.4ZM421.9,1196.7L434.7,1196.7L444.9,1208.0L444.9,1210.7L448.9,1210.7L448.9,1223.3L444.9,1223.3L444.9,1226.0L434.7,1237.3L421.9,1237.3L411.7,1226.0L411.7,1223.3L407.7,1223.3L407.7,1210.7L411.7,1210.7L411.7,1208.0ZM454.1,1240.3L466.9,1240.3L477.1,1251.6L477.1,1254.3L481.1,1254.3L481.1,1266.9L477.1,1266.9L477.1,1269.6L466.9,1280.9L454.1,1280.9L443.9,1269.6L443.9,1266.9L439.9,1266.9L439.9,1254.3L443.9,1254.3L443.9,1251.6ZM490.0,1268.2L502.8,1268.2L513.0,1279.5L513.0,1282.2L517.0,1282.2L517.0,1294.8L513.0,1294.8L513.0,1297.5L502.8,1308.8L490.0,1308.8L479.8,1297.5L479.8,1294.8L475.8,1294.8L475.8,1282.2L479.8,1282.2L479.8,1279.5ZM526.1,1293.3L538.9,1293.3L549.1,1304.6L549.1,1307.3L553.1,1307.3L553.1,1319.9L549.1,1319.9L549.1,1322.6L538.9,1333.9L526.1,1333.9L515.9,1322.6L515.9,1319.9L511.9,1319.9L511.9,1307.3L515.9,1307.3L515.9,1304.6ZM559.2,1317.3L572.0,1317.3L582.2,1328.6L582.2,1331.3L586.2,1331.3L586.2,1343.9L582.2,1343.9L582.2,1346.6L572.0,1357.9L559.2,1357.9L549.0,1346.6L549.0,1343.9L545.0,1343.9L545.0,1331.3L549.0,1331.3L549.0,1328.6ZM594.9,1325.3L607.7,1325.3L617.9,1336.6L617.9,1339.3L621.9,1339.3L621.9,1351.9L617.9,1351.9L617.9,1354.6L607.7,1365.9L594.9,1365.9L584.7,1354.6L584.7,1351.9L580.7,1351.9L580.7,1339.3L584.7,1339.3L584.7,1336.6ZM631.2,1333.5L644.0,1333.5L654.2,1344.8L654.2,1347.5L658.2,1347.5L658.2,1360.1L654.2,1360.1L654.2,1362.8L644.0,1374.1L631.2,1374.1L621.0,1362.8L621.0,1360.1L617.0,1360.1L617.0,1347.5L621.0,1347.5L621.0,1344.8ZM663.5,1333.5L676.3,1333.5L686.5,1344.8L686.5,1347.5L690.5,1347.5L690.5,1360.1L686.5,1360.1L686.5,1362.8L676.3,1374.1L663.5,1374.1L653.3,1362.8L653.3,1360.1L649.3,1360.1L649.3,1347.5L653.3,1347.5L653.3,1344.8ZM700.1,1337.7L712.9,1337.7L723.1,1349.0L723.1,1351.7L727.1,1351.7L727.1,1364.3L723.1,1364.3L723.1,1367.0L712.9,1378.3L700.1,1378.3L689.9,1367.0L689.9,1364.3L685.9,1364.3L685.9,1351.7L689.9,1351.7L689.9,1349.0ZM736.2,1341.8L749.0,1341.8L759.2,1353.1L759.2,1355.8L763.2,1355.8L763.2,1368.4L759.2,1368.4L759.2,1371.1L749.0,1382.4L736.2,1382.4L726.0,1371.1L726.0,1368.4L722.0,1368.4L722.0,1355.8L726.0,1355.8L726.0,1353.1ZM768.0,1341.8L780.8,1341.8L791.0,1353.1L791.0,1355.8L795.0,1355.8L795.0,1368.4L791.0,1368.4L791.0,1371.1L780.8,1382.4L768.0,1382.4L757.8,1371.1L757.8,1368.4L753.8,1368.4L753.8,1355.8L757.8,1355.8L757.8,1353.1ZM805.0,1341.8L817.8,1341.8L828.0,1353.1L828.0,1355.8L832.0,1355.8L832.0,1368.4L828.0,1368.4L828.0,1371.1L817.8,1382.4L805.0,1382.4L794.8,1371.1L794.8,1368.4L790.8,1368.4L790.8,1355.8L794.8,1355.8L794.8,1353.1ZM840.8,1341.8L853.6,1341.8L863.8,1353.1L863.8,1355.8L867.8,1355.8L867.8,1368.4L863.8,1368.4L863.8,1371.1L853.6,1382.4L840.8,1382.4L830.6,1371.1L830.6,1368.4L826.6,1368.4L826.6,1355.8L830.6,1355.8L830.6,1353.1ZM873.1,1341.8L885.9,1341.8L896.1,1353.1L896.1,1355.8L900.1,1355.8L900.1,1368.4L896.1,1368.4L896.1,1371.1L885.9,1382.4L873.1,1382.4L862.9,1371.1L862.9,1368.4L858.9,1368.4L858.9,1355.8L862.9,1355.8L862.9,1353.1ZM909.2,1345.5L922.0,1345.5L932.2,1356.8L932.2,1359.5L936.2,1359.5L936.2,1372.1L932.2,1372.1L932.2,1374.8L922.0,1386.1L909.2,1386.1L899.0,1374.8L899.0,1372.1L895.0,1372.1L895.0,1359.5L899.0,1359.5L899.0,1356.8ZM946.1,1345.5L958.9,1345.5L969.1,1356.8L969.1,1359.5L973.1,1359.5L973.1,1372.1L969.1,1372.1L969.1,1374.8L958.9,1386.1L946.1,1386.1L935.9,1374.8L935.9,1372.1L931.9,1372.1L931.9,1359.5L935.9,1359.5L935.9,1356.8ZM978.1,1345.5L990.9,1345.5L1001.1,1356.8L1001.1,1359.5L1005.1,1359.5L1005.1,1372.1L1001.1,1372.1L1001.1,1374.8L990.9,1386.1L978.1,1386.1L967.9,1374.8L967.9,1372.1L963.9,1372.1L963.9,1359.5L967.9,1359.5L967.9,1356.8ZM1014.2,1345.5L1027.0,1345.5L1037.2,1356.8L1037.2,1359.5L1041.2,1359.5L1041.2,1372.1L1037.2,1372.1L1037.2,1374.8L1027.0,1386.1L1014.2,1386.1L1004.0,1374.8L1004.0,1372.1L1000.0,1372.1L1000.0,1359.5L1004.0,1359.5L1004.0,1356.8ZM1050.5,1345.5L1063.3,1345.5L1073.5,1356.8L1073.5,1359.5L1077.5,1359.5L1077.5,1372.1L1073.5,1372.1L1073.5,1374.8L1063.3,1386.1L1050.5,1386.1L1040.3,1374.8L1040.3,1372.1L1036.3,1372.1L1036.3,1359.5L1040.3,1359.5L1040.3,1356.8ZM1087.2,1349.3L1100.0,1349.3L1110.2,1360.6L1110.2,1363.3L1114.2,1363.3L1114.2,1375.9L1110.2,1375.9L1110.2,1378.6L1100.0,1389.9L1087.2,1389.9L1077.0,1378.6L1077.0,1375.9L1073.0,1375.9L1073.0,1363.3L1077.0,1363.3L1077.0,1360.6ZM1118.8,1349.3L1131.6,1349.3L1141.8,1360.6L1141.8,1363.3L1145.8,1363.3L1145.8,1375.9L1141.8,1375.9L1141.8,1378.6L1131.6,1389.9L1118.8,1389.9L1108.6,1378.6L1108.6,1375.9L1104.6,1375.9L1104.6,1363.3L1108.6,1363.3L1108.6,1360.6ZM1155.2,1349.3L1168.0,1349.3L1178.2,1360.6L1178.2,1363.3L1182.2,1363.3L1182.2,1375.9L1178.2,1375.9L1178.2,1378.6L1168.0,1389.9L1155.2,1389.9L1145.0,1378.6L1145.0,1375.9L1141.0,1375.9L1141.0,1363.3L1145.0,1363.3L1145.0,1360.6ZM1191.9,1349.3L1204.7,1349.3L1214.9,1360.6L1214.9,1363.3L1218.9,1363.3L1218.9,1375.9L1214.9,1375.9L1214.9,1378.6L1204.7,1389.9L1191.9,1389.9L1181.7,1378.6L1181.7,1375.9L1177.7,1375.9L1177.7,1363.3L1181.7,1363.3L1181.7,1360.6ZM1223.9,1349.3L1236.7,1349.3L1246.9,1360.6L1246.9,1363.3L1250.9,1363.3L1250.9,1375.9L1246.9,1375.9L1246.9,1378.6L1236.7,1389.9L1223.9,1389.9L1213.7,1378.6L1213.7,1375.9L1209.7,1375.9L1209.7,1363.3L1213.7,1363.3L1213.7,1360.6ZM1259.6,1349.3L1272.4,1349.3L1282.6,1360.6L1282.6,1363.3L1286.6,1363.3L1286.6,1375.9L1282.6,1375.9L1282.6,1378.6L1272.4,1389.9L1259.6,1389.9L1249.4,1378.6L1249.4,1375.9L1245.4,1375.9L1245.4,1363.3L1249.4,1363.3L1249.4,1360.6ZM1296.3,1349.3L1309.1,1349.3L1319.3,1360.6L1319.3,1363.3L1323.3,1363.3L1323.3,1375.9L1319.3,1375.9L1319.3,1378.6L1309.1,1389.9L1296.3,1389.9L1286.1,1378.6L1286.1,1375.9L1282.1,1375.9L1282.1,1363.3L1286.1,1363.3L1286.1,1360.6ZM1329.0,1349.3L1341.8,1349.3L1352.0,1360.6L1352.0,1363.3L1356.0,1363.3L1356.0,1375.9L1352.0,1375.9L1352.0,1378.6L1341.8,1389.9L1329.0,1389.9L1318.8,1378.6L1318.8,1375.9L1314.8,1375.9L1314.8,1363.3L1318.8,1363.3L1318.8,1360.6ZM1365.3,1349.3L1378.1,1349.3L1388.3,1360.6L1388.3,1363.3L1392.3,1363.3L1392.3,1375.9L1388.3,1375.9L1388.3,1378.6L1378.1,1389.9L1365.3,1389.9L1355.1,1378.6L1355.1,1375.9L1351.1,1375.9L1351.1,1363.3L1355.1,1363.3L1355.1,1360.6ZM1400.9,1349.3L1413.7,1349.3L1423.9,1360.6L1423.9,1363.3L1427.9,1363.3L1427.9,1375.9L1423.9,1375.9L1423.9,1378.6L1413.7,1389.9L1400.9,1389.9L1390.7,1378.6L1390.7,1375.9L1386.7,1375.9L1386.7,1363.3L1390.7,1363.3L1390.7,1360.6ZM1433.6,1349.3L1446.4,1349.3L1456.6,1360.6L1456.6,1363.3L1460.6,1363.3L1460.6,1375.9L1456.6,1375.9L1456.6,1378.6L1446.4,1389.9L1433.6,1389.9L1423.4,1378.6L1423.4,1375.9L1419.4,1375.9L1419.4,1363.3L1423.4,1363.3L1423.4,1360.6ZM1469.9,1349.3L1482.7,1349.3L1492.9,1360.6L1492.9,1363.3L1496.9,1363.3L1496.9,1375.9L1492.9,1375.9L1492.9,1378.6L1482.7,1389.9L1469.9,1389.9L1459.7,1378.6L1459.7,1375.9L1455.7,1375.9L1455.7,1363.3L1459.7,1363.3L1459.7,1360.6ZM1506.0,1349.3L1518.8,1349.3L1529.0,1360.6L1529.0,1363.3L1533.0,1363.3L1533.0,1375.9L1529.0,1375.9L1529.0,1378.6L1518.8,1389.9L1506.0,1389.9L1495.8,1378.6L1495.8,1375.9L1491.8,1375.9L1491.8,1363.3L1495.8,1363.3L1495.8,1360.6ZM1538.0,1349.3L1550.8,1349.3L1561.0,1360.6L1561.0,1363.3L1565.0,1363.3L1565.0,1375.9L1561.0,1375.9L1561.0,1378.6L1550.8,1389.9L1538.0,1389.9L1527.8,1378.6L1527.8,1375.9L1523.8,1375.9L1523.8,1363.3L1527.8,1363.3L1527.8,1360.6ZM1574.9,1349.3L1587.7,1349.3L1597.9,1360.6L1597.9,1363.3L1601.9,1363.3L1601.9,1375.9L1597.9,1375.9L1597.9,1378.6L1587.7,1389.9L1574.9,1389.9L1564.7,1378.6L1564.7,1375.9L1560.7,1375.9L1560.7,1363.3L1564.7,1363.3L1564.7,1360.6ZM1611.0,1349.3L1623.8,1349.3L1634.0,1360.6L1634.0,1363.3L1638.0,1363.3L1638.0,1375.9L1634.0,1375.9L1634.0,1378.6L1623.8,1389.9L1611.0,1389.9L1600.8,1378.6L1600.8,1375.9L1596.8,1375.9L1596.8,1363.3L1600.8,1363.3L1600.8,1360.6ZM1643.1,1349.3L1655.9,1349.3L1666.1,1360.6L1666.1,1363.3L1670.1,1363.3L1670.1,1375.9L1666.1,1375.9L1666.1,1378.6L1655.9,1389.9L1643.1,1389.9L1632.9,1378.6L1632.9,1375.9L1628.9,1375.9L1628.9,1363.3L1632.9,1363.3L1632.9,1360.6ZM1679.8,1349.3L1692.6,1349.3L1702.8,1360.6L1702.8,1363.3L1706.8,1363.3L1706.8,1375.9L1702.8,1375.9L1702.8,1378.6L1692.6,1389.9L1679.8,1389.9L1669.6,1378.6L1669.6,1375.9L1665.6,1375.9L1665.6,1363.3L1669.6,1363.3L1669.6,1360.6ZM1716.2,1349.3L1729.0,1349.3L1739.2,1360.6L1739.2,1363.3L1743.2,1363.3L1743.2,1375.9L1739.2,1375.9L1739.2,1378.6L1729.0,1389.9L1716.2,1389.9L1706.0,1378.6L1706.0,1375.9L1702.0,1375.9L1702.0,1363.3L1706.0,1363.3L1706.0,1360.6ZM1748.1,1349.3L1760.9,1349.3L1771.1,1360.6L1771.1,1363.3L1775.1,1363.3L1775.1,1375.9L1771.1,1375.9L1771.1,1378.6L1760.9,1389.9L1748.1,1389.9L1737.9,1378.6L1737.9,1375.9L1733.9,1375.9L1733.9,1363.3L1737.9,1363.3L1737.9,1360.6ZM1784.1,1349.3L1796.9,1349.3L1807.1,1360.6L1807.1,1363.3L1811.1,1363.3L1811.1,1375.9L1807.1,1375.9L1807.1,1378.6L1796.9,1389.9L1784.1,1389.9L1773.9,1378.6L1773.9,1375.9L1769.9,1375.9L1769.9,1363.3L1773.9,1363.3L1773.9,1360.6ZM1820.8,1349.3L1833.6,1349.3L1843.8,1360.6L1843.8,1363.3L1847.8,1363.3L1847.8,1375.9L1843.8,1375.9L1843.8,1378.6L1833.6,1389.9L1820.8,1389.9L1810.6,1378.6L1810.6,1375.9L1806.6,1375.9L1806.6,1363.3L1810.6,1363.3L1810.6,1360.6ZM1853.1,1349.3L1865.9,1349.3L1876.1,1360.6L1876.1,1363.3L1880.1,1363.3L1880.1,1375.9L1876.1,1375.9L1876.1,1378.6L1865.9,1389.9L1853.1,1389.9L1842.9,1378.6L1842.9,1375.9L1838.9,1375.9L1838.9,1363.3L1842.9,1363.3L1842.9,1360.6ZM1889.2,1349.3L1902.0,1349.3L1912.2,1360.6L1912.2,1363.3L1916.2,1363.3L1916.2,1375.9L1912.2,1375.9L1912.2,1378.6L1902.0,1389.9L1889.2,1389.9L1879.0,1378.6L1879.0,1375.9L1875.0,1375.9L1875.0,1363.3L1879.0,1363.3L1879.0,1360.6ZM1925.1,1349.3L1937.9,1349.3L1948.1,1360.6L1948.1,1363.3L1952.1,1363.3L1952.1,1375.9L1948.1,1375.9L1948.1,1378.6L1937.9,1389.9L1925.1,1389.9L1914.9,1378.6L1914.9,1375.9L1910.9,1375.9L1910.9,1363.3L1914.9,1363.3L1914.9,1360.6ZM1961.9,1349.3L1974.7,1349.3L1984.9,1360.6L1984.9,1363.3L1988.9,1363.3L1988.9,1375.9L1984.9,1375.9L1984.9,1378.6L1974.7,1389.9L1961.9,1389.9L1951.7,1378.6L1951.7,1375.9L1947.7,1375.9L1947.7,1363.3L1951.7,1363.3L1951.7,1360.6Z" fill="#0f0"/>
<polyline points="250.5,470.6 287,615.5 323.5,797.0 355.5,1014.5 392,1147.5 428.3,1220.4 460.5,1268.2 496.4,1309.5 532.5,1341.6 565.6,1373.7 601.3,1381.7 637.6,1385.8 669.9,1389.8 706.5,1394.1 742.6,1394.1 774.4,1394.1 811.4,1398.2 847.2,1398.2 879.5,1398.2 915.6,1398.2 952.5,1398.2 984.5,1401.6 1020.6,1401.6 1056.9,1401.6 1093.6,1401.6 1125.2,1401.6 1161.6,1401.6 1198.3,1401.6 1230.3,1401.6 1266,1401.6 1302.7,1401.6 1335.4,1401.6 1371.7,1401.6 1407.3,1401.6 1440,1401.6 1476.3,1401.6 1512.4,1401.6 1544.4,1401.6 1581.3,1401.6 1617.4,1401.6 1649.5,1401.6 1686.2,1401.6 1722.6,1401.6 1754.5,1401.6 1790.5,1401.6 1827.2,1401.6 1859.5,1401.6 1895.6,1401.6 1931.5,1401.6 1968.3,1401.6" fill="none" stroke="#f00" stroke-width="12.6" stroke-linejoin="round"/>
<path d="M244.1,450.3L256.9,450.3L267.1,461.6L267.1,464.3L271.1,464.3L271.1,476.9L267.1,476.9L267.1,479.6L256.9,490.9L244.1,490.9L233.9,479.6L233.9,476.9L229.9,476.9L229.9,464.3L233.9,464.3L233.9,461.6ZM280.6,595.2L293.4,595.2L303.6,606.5L303.6,609.2L307.6,609.2L307.6,621.8L303.6,621.8L303.6,624.5L293.4,635.8L280.6,635.8L270.4,624.5L270.4,621.8L266.4,621.8L266.4,609.2L270.4,609.2L270.4,606.5ZM317.1,776.7L329.9,776.7L340.1,788.0L340.1,790.7L344.1,790.7L344.1,803.3L340.1,803.3L340.1,806.0L329.9,817.3L317.1,817.3L306.9,806.0L306.9,803.3L302.9,803.3L302.9,790.7L306.9,790.7L306.9,788.0ZM349.1,994.2L361.9,994.2L372.1,1005.5L372.1,1008.2L376.1,1008.2L376.1,1020.8L372.1,1020.8L372.1,1023.5L361.9,1034.8L349.1,1034.8L338.9,1023.5L338.9,1020.8L334.9,1020.8L334.9,1008.2L338.9,1008.2L338.9,1005.5ZM385.6,1127.2L398.4,1127.2L408.6,1138.5L408.6,1141.2L412.6,1141.2L412.6,1153.8L408.6,1153.8L408.6,1156.5L398.4,1167.8L385.6,1167.8L375.4,1156.5L375.4,1153.8L371.4,1153.8L371.4,1141.2L375.4,1141.2L375.4,1138.5ZM421.9,1200.1L434.7,1200.1L444.9,1211.4L444.9,1214.1L448.9,1214.1L448.9,1226.7L444.9,1226.7L444.9,1229.4L434.7,1240.7L421.9,1240.7L411.7,1229.4L411.7,1226.7L407.7,1226.7L407.7,1214.1L411.7,1214.1L411.7,1211.4ZM454.1,1247.9L466.9,1247.9L477.1,1259.2L477.1,1261.9L481.1,1261.9L481.1,1274.5L477.1,1274.5L477.1,1277.2L466.9,1288.5L454.1,1288.5L443.9,1277.2L443.9,1274.5L439.9,1274.5L439.9,1261.9L443.9,1261.9L443.9,1259.2ZM490.0,1289.2L502.8,1289.2L513.0,1300.5L513.0,1303.2L517.0,1303.2L517.0,1315.8L513.0,1315.8L513.0,1318.5L502.8,1329.8L490.0,1329.8L479.8,1318.5L479.8,1315.8L475.8,1315.8L475.8,1303.2L479.8,1303.2L479.8,1300.5ZM526.1,1321.3L538.9,1321.3L549.1,1332.6L549.1,1335.3L553.1,1335.3L553.1,1347.9L549.1,1347.9L549.1,1350.6L538.9,1361.9L526.1,1361.9L515.9,1350.6L515.9,1347.9L511.9,1347.9L511.9,1335.3L515.9,1335.3L515.9,1332.6ZM559.2,1353.4L572.0,1353.4L582.2,1364.7L582.2,1367.4L586.2,1367.4L586.2,1380.0L582.2,1380.0L582.2,1382.7L572.0,1394.0L559.2,1394.0L549.0,1382.7L549.0,1380.0L545.0,1380.0L545.0,1367.4L549.0,1367.4L549.0,1364.7ZM594.9,1361.4L607.7,1361.4L617.9,1372.7L617.9,1375.4L621.9,1375.4L621.9,1388.0L617.9,1388.0L617.9,1390.7L607.7,1402.0L594.9,1402.0L584.7,1390.7L584.7,1388.0L580.7,1388.0L580.7,1375.4L584.7,1375.4L584.7,1372.7ZM631.2,1365.5L644.0,1365.5L654.2,1376.8L654.2,1379.5L658.2,1379.5L658.2,1392.1L654.2,1392.1L654.2,1394.8L644.0,1406.1L631.2,1406.1L621.0,1394.8L621.0,1392.1L617.0,1392.1L617.0,1379.5L621.0,1379.5L621.0,1376.8ZM663.5,1369.5L676.3,1369.5L686.5,1380.8L686.5,1383.5L690.5,1383.5L690.5,1396.1L686.5,1396.1L686.5,1398.8L676.3,1410.1L663.5,1410.1L653.3,1398.8L653.3,1396.1L649.3,1396.1L649.3,1383.5L653.3,1383.5L653.3,1380.8ZM700.1,1373.8L712.9,1373.8L723.1,1385.1L723.1,1387.8L727.1,1387.8L727.1,1400.4L723.1,1400.4L723.1,1403.1L712.9,1414.4L700.1,1414.4L689.9,1403.1L689.9,1400.4L685.9,1400.4L685.9,1387.8L689.9,1387.8L689.9,1385.1ZM736.2,1373.8L749.0,1373.8L759.2,1385.1L759.2,1387.8L763.2,1387.8L763.2,1400.4L759.2,1400.4L759.2,1403.1L749.0,1414.4L736.2,1414.4L726.0,1403.1L726.0,1400.4L722.0,1400.4L722.0,1387.8L726.0,1387.8L726.0,1385.1ZM768.0,1373.8L780.8,1373.8L791.0,1385.1L791.0,1387.8L795.0,1387.8L795.0,1400.4L791.0,1400.4L791.0,1403.1L780.8,1414.4L768.0,1414.4L757.8,1403.1L757.8,1400.4L753.8,1400.4L753.8,1387.8L757.8,1387.8L757.8,1385.1ZM805.0,1377.9L817.8,1377.9L828.0,1389.2L828.0,1391.9L832.0,1391.9L832.0,1404.5L828.0,1404.5L828.0,1407.2L817.8,1418.5L805.0,1418.5L794.8,1407.2L794.8,1404.5L790.8,1404.5L790.8,1391.9L794.8,1391.9L794.8,1389.2ZM840.8,1377.9L853.6,1377.9L863.8,1389.2L863.8,1391.9L867.8,1391.9L867.8,1404.5L863.8,1404.5L863.8,1407.2L853.6,1418.5L840.8,1418.5L830.6,1407.2L830.6,1404.5L826.6,1404.5L826.6,1391.9L830.6,1391.9L830.6,1389.2ZM873.1,1377.9L885.9,1377.9L896.1,1389.2L896.1,1391.9L900.1,1391.9L900.1,1404.5L896.1,1404.5L896.1,1407.2L885.9,1418.5L873.1,1418.5L862.9,1407.2L862.9,1404.5L858.9,1404.5L858.9,1391.9L862.9,1391.9L862.9,1389.2ZM909.2,1377.9L922.0,1377.9L932.2,1389.2L932.2,1391.9L936.2,1391.9L936.2,1404.5L932.2,1404.5L932.2,1407.2L922.0,1418.5L909.2,1418.5L899.0,1407.2L899.0,1404.5L895.0,1404.5L895.0,1391.9L899.0,1391.9L899.0,1389.2ZM946.1,1377.9L958.9,1377.9L969.1,1389.2L969.1,1391.9L973.1,1391.9L973.1,1404.5L969.1,1404.5L969.1,1407.2L958.9,1418.5L946.1,1418.5L935.9,1407.2L935.9,1404.5L931.9,1404.5L931.9,1391.9L935.9,1391.9L935.9,1389.2ZM978.1,1381.3L990.9,1381.3L1001.1,1392.6L1001.1,1395.3L1005.1,1395.3L1005.1,1407.9L1001.1,1407.9L1001.1,1410.6L990.9,1421.9L978.1,1421.9L967.9,1410.6L967.9,1407.9L963.9,1407.9L963.9,1395.3L967.9,1395.3L967.9,1392.6ZM1014.2,1381.3L1027.0,1381.3L1037.2,1392.6L1037.2,1395.3L1041.2,1395.3L1041.2,1407.9L1037.2,1407.9L1037.2,1410.6L1027.0,1421.9L1014.2,1421.9L1004.0,1410.6L1004.0,1407.9L1000.0,1407.9L1000.0,1395.3L1004.0,1395.3L1004.0,1392.6ZM1050.5,1381.3L1063.3,1381.3L1073.5,1392.6L1073.5,1395.3L1077.5,1395.3L1077.5,1407.9L1073.5,1407.9L1073.5,1410.6L1063.3,1421.9L1050.5,1421.9L1040.3,1410.6L1040.3,1407.9L1036.3,1407.9L1036.3,1395.3L1040.3,1395.3L1040.3,1392.6ZM1087.2,1381.3L1100.0,1381.3L1110.2,1392.6L1110.2,1395.3L1114.2,1395.3L1114.2,1407.9L1110.2,1407.9L1110.2,1410.6L1100.0,1421.9L1087.2,1421.9L1077.0,1410.6L1077.0,1407.9L1073.0,1407.9L1073.0,1395.3L1077.0,1395.3L1077.0,1392.6ZM1118.8,1381.3L1131.6,1381.3L1141.8,1392.6L1141.8,1395.3L1145.8,1395.3L1145.8,1407.9L1141.8,1407.9L1141.8,1410.6L1131.6,1421.9L1118.8,1421.9L1108.6,1410.6L1108.6,1407.9L1104.6,1407.9L1104.6,1395.3L1108.6,1395.3L1108.6,1392.6ZM1155.2,1381.3L1168.0,1381.3L1178.2,1392.6L1178.2,1395.3L1182.2,1395.3L1182.2,1407.9L1178.2,1407.9L1178.2,1410.6L1168.0,1421.9L1155.2,1421.9L1145.0,1410.6L1145.0,1407.9L1141.0,1407.9L1141.0,1395.3L1145.0,1395.3L1145.0,1392.6ZM1191.9,1381.3L1204.7,1381.3L1214.9,1392.6L1214.9,1395.3L1218.9,1395.3L1218.9,1407.9L1214.9,1407.9L1214.9,1410.6L1204.7,1421.9L1191.9,1421.9L1181.7,1410.6L1181.7,1407.9L1177.7,1407.9L1177.7,1395.3L1181.7,1395.3L1181.7,1392.6ZM1223.9,1381.3L1236.7,1381.3L1246.9,1392.6L1246.9,1395.3L1250.9,1395.3L1250.9,1407.9L1246.9,1407.9L1246.9,1410.6L1236.7,1421.9L1223.9,1421.9L1213.7,1410.6L1213.7,1407.9L1209.7,1407.9L1209.7,1395.3L1213.7,1395.3L1213.7,1392.6ZM1259.6,1381.3L1272.4,1381.3L1282.6,1392.6L1282.6,1395.3L1286.6,1395.3L1286.6,1407.9L1282.6,1407.9L1282.6,1410.6L1272.4,1421.9L1259.6,1421.9L1249.4,1410.6L1249.4,1407.9L1245.4,1407.9L1245.4,1395.3L1249.4,1395.3L1249.4,1392.6ZM1296.3,1381.3L1309.1,1381.3L1319.3,1392.6L1319.3,1395.3L1323.3,1395.3L1323.3,1407.9L1319.3,1407.9L1319.3,1410.6L1309.1,1421.9L1296.3,1421.9L1286.1,1410.6L1286.1,1407.9L1282.1,1407.9L1282.1,1395.3L1286.1,1395.3L1286.1,1392.6ZM1329.0,1381.3L1341.8,1381.3L1352.0,1392.6L1352.0,1395.3L1356.0,1395.3L1356.0,1407.9L1352.0,1407.9L1352.0,1410.6L1341.8,1421.9L1329.0,1421.9L1318.8,1410.6L1318.8,1407.9L1314.8,1407.9L1314.8,1395.3L1318.8,1395.3L1318.8,1392.6ZM1365.3,1381.3L1378.1,1381.3L1388.3,1392.6L1388.3,1395.3L1392.3,1395.3L1392.3,1407.9L1388.3,1407.9L1388.3,1410.6L1378.1,1421.9L1365.3,1421.9L1355.1,1410.6L1355.1,1407.9L1351.1,1407.9L1351.1,1395.3L1355.1,1395.3L1355.1,1392.6ZM1400.9,1381.3L1413.7,1381.3L1423.9,1392.6L1423.9,1395.3L1427.9,1395.3L1427.9,1407.9L1423.9,1407.9L1423.9,1410.6L1413.7,1421.9L1400.9,1421.9L1390.7,1410.6L1390.7,1407.9L1386.7,1407.9L1386.7,1395.3L1390.7,1395.3L1390.7,1392.6ZM1433.6,1381.3L1446.4,1381.3L1456.6,1392.6L1456.6,1395.3L1460.6,1395.3L1460.6,1407.9L1456.6,1407.9L1456.6,1410.6L1446.4,1421.9L1433.6,1421.9L1423.4,1410.6L1423.4,1407.9L1419.4,1407.9L1419.4,1395.3L1423.4,1395.3L1423.4,1392.6ZM1469.9,1381.3L1482.7,1381.3L1492.9,1392.6L1492.9,1395.3L1496.9,1395.3L1496.9,1407.9L1492.9,1407.9L1492.9,1410.6L1482.7,1421.9L1469.9,1421.9L1459.7,1410.6L1459.7,1407.9L1455.7,1407.9L1455.7,1395.3L1459.7,1395.3L1459.7,1392.6ZM1506.0,1381.3L1518.8,1381.3L1529.0,1392.6L1529.0,1395.3L1533.0,1395.3L1533.0,1407.9L1529.0,1407.9L1529.0,1410.6L1518.8,1421.9L1506.0,1421.9L1495.8,1410.6L1495.8,1407.9L1491.8,1407.9L1491.8,1395.3L1495.8,1395.3L1495.8,1392.6ZM1538.0,1381.3L1550.8,1381.3L1561.0,1392.6L1561.0,1395.3L1565.0,1395.3L1565.0,1407.9L1561.0,1407.9L1561.0,1410.6L1550.8,1421.9L1538.0,1421.9L1527.8,1410.6L1527.8,1407.9L1523.8,1407.9L1523.8,1395.3L1527.8,1395.3L1527.8,1392.6ZM1574.9,1381.3L1587.7,1381.3L1597.9,1392.6L1597.9,1395.3L1601.9,1395.3L1601.9,1407.9L1597.9,1407.9L1597.9,1410.6L1587.7,1421.9L1574.9,1421.9L1564.7,1410.6L1564.7,1407.9L1560.7,1407.9L1560.7,1395.3L1564.7,1395.3L1564.7,1392.6ZM1611.0,1381.3L1623.8,1381.3L1634.0,1392.6L1634.0,1395.3L1638.0,1395.3L1638.0,1407.9L1634.0,1407.9L1634.0,1410.6L1623.8,1421.9L1611.0,1421.9L1600.8,1410.6L1600.8,1407.9L1596.8,1407.9L1596.8,1395.3L1600.8,1395.3L1600.8,1392.6ZM1643.1,1381.3L1655.9,1381.3L1666.1,1392.6L1666.1,1395.3L1670.1,1395.3L1670.1,1407.9L1666.1,1407.9L1666.1,1410.6L1655.9,1421.9L1643.1,1421.9L1632.9,1410.6L1632.9,1407.9L1628.9,1407.9L1628.9,1395.3L1632.9,1395.3L1632.9,1392.6ZM1679.8,1381.3L1692.6,1381.3L1702.8,1392.6L1702.8,1395.3L1706.8,1395.3L1706.8,1407.9L1702.8,1407.9L1702.8,1410.6L1692.6,1421.9L1679.8,1421.9L1669.6,1410.6L1669.6,1407.9L1665.6,1407.9L1665.6,1395.3L1669.6,1395.3L1669.6,1392.6ZM1716.2,1381.3L1729.0,1381.3L1739.2,1392.6L1739.2,1395.3L1743.2,1395.3L1743.2,1407.9L1739.2,1407.9L1739.2,1410.6L1729.0,1421.9L1716.2,1421.9L1706.0,1410.6L1706.0,1407.9L1702.0,1407.9L1702.0,1395.3L1706.0,1395.3L1706.0,1392.6ZM1748.1,1381.3L1760.9,1381.3L1771.1,1392.6L1771.1,1395.3L1775.1,1395.3L1775.1,1407.9L1771.1,1407.9L1771.1,1410.6L1760.9,1421.9L1748.1,1421.9L1737.9,1410.6L1737.9,1407.9L1733.9,1407.9L1733.9,1395.3L1737.9,1395.3L1737.9,1392.6ZM1784.1,1381.3L1796.9,1381.3L1807.1,1392.6L1807.1,1395.3L1811.1,1395.3L1811.1,1407.9L1807.1,1407.9L1807.1,1410.6L1796.9,1421.9L1784.1,1421.9L1773.9,1410.6L1773.9,1407.9L1769.9,1407.9L1769.9,1395.3L1773.9,1395.3L1773.9,1392.6ZM1820.8,1381.3L1833.6,1381.3L1843.8,1392.6L1843.8,1395.3L1847.8,1395.3L1847.8,1407.9L1843.8,1407.9L1843.8,1410.6L1833.6,1421.9L1820.8,1421.9L1810.6,1410.6L1810.6,1407.9L1806.6,1407.9L1806.6,1395.3L1810.6,1395.3L1810.6,1392.6ZM1853.1,1381.3L1865.9,1381.3L1876.1,1392.6L1876.1,1395.3L1880.1,1395.3L1880.1,1407.9L1876.1,1407.9L1876.1,1410.6L1865.9,1421.9L1853.1,1421.9L1842.9,1410.6L1842.9,1407.9L1838.9,1407.9L1838.9,1395.3L1842.9,1395.3L1842.9,1392.6ZM1889.2,1381.3L1902.0,1381.3L1912.2,1392.6L1912.2,1395.3L1916.2,1395.3L1916.2,1407.9L1912.2,1407.9L1912.2,1410.6L1902.0,1421.9L1889.2,1421.9L1879.0,1410.6L1879.0,1407.9L1875.0,1407.9L1875.0,1395.3L1879.0,1395.3L1879.0,1392.6ZM1925.1,1381.3L1937.9,1381.3L1948.1,1392.6L1948.1,1395.3L1952.1,1395.3L1952.1,1407.9L1948.1,1407.9L1948.1,1410.6L1937.9,1421.9L1925.1,1421.9L1914.9,1410.6L1914.9,1407.9L1910.9,1407.9L1910.9,1395.3L1914.9,1395.3L1914.9,1392.6ZM1961.9,1381.3L1974.7,1381.3L1984.9,1392.6L1984.9,1395.3L1988.9,1395.3L1988.9,1407.9L1984.9,1407.9L1984.9,1410.6L1974.7,1421.9L1961.9,1421.9L1951.7,1410.6L1951.7,1407.9L1947.7,1407.9L1947.7,1395.3L1951.7,1395.3L1951.7,1392.6Z" fill="#f00"/>
<rect x="891.5" y="175.5" width="1044.0" height="375.0" fill="#fff" stroke="#000" stroke-width="1" shape-rendering="crispEdges"/>
<path d="M932,228.5H1134" stroke="#000" stroke-width="13"/>
<path d="M1026.5,207.7L1039.5,207.7L1050.0,220.0L1050.0,237.0L1039.5,249.3L1026.5,249.3L1016.0,237.0L1016.0,220.0Z" fill="#000"/>
<path d="M932,317.0H1134" stroke="#00f" stroke-width="13"/>
<path d="M1026.5,296.2L1039.5,296.2L1050.0,308.5L1050.0,325.5L1039.5,337.8L1026.5,337.8L1016.0,325.5L1016.0,308.5Z" fill="#00f"/>
<path d="M932,405.5H1134" stroke="#0f0" stroke-width="13"/>
<path d="M1026.5,384.7L1039.5,384.7L1050.0,397.0L1050.0,414.0L1039.5,426.3L1026.5,426.3L1016.0,414.0L1016.0,397.0Z" fill="#0f0"/>
<path d="M932,494.5H1134" stroke="#f00" stroke-width="13"/>
<path d="M1026.5,473.7L1039.5,473.7L1050.0,486.0L1050.0,503.0L1039.5,515.3L1026.5,515.3L1016.0,503.0L1016.0,486.0Z" fill="#f00"/>
<g font-family="'Liberation Sans', Arial, sans-serif" fill="#000"><text transform="translate(694.62,96.20) scale(0.9389,1)" font-size="70.5" >Energy</text>
<text transform="translate(929.19,96.20) scale(0.9291,1)" font-size="70.5" >consumption</text>
<text transform="translate(1320.16,96.20) scale(0.9376,1)" font-size="70.5" >curve</text>
<text transform="translate(216.89,116.30) scale(1.0059,1)" font-size="72.5" >x</text>
<text transform="translate(268.47,116.30) scale(0.8889,1)" font-size="72.5" >10</text>
<text transform="translate(338.57,63.10) scale(0.9401,1)" font-size="51.2" >4</text>
<text transform="translate(146.8,161.0) scale(1.004,1)" font-size="72.5">11</text>
<text transform="translate(147.58,297.90) scale(0.8875,1)" font-size="72.5" >10</text>
<text transform="translate(173.98,435.00) scale(0.9412,1)" font-size="72.5" >9</text>
<text transform="translate(174.19,572.00) scale(0.9353,1)" font-size="72.5" >8</text>
<text transform="translate(172.92,709.30) scale(0.9697,1)" font-size="72.5" >7</text>
<text transform="translate(172.92,849.50) scale(0.9697,1)" font-size="72.5" >6</text>
<text transform="translate(173.98,990.00) scale(0.9412,1)" font-size="72.5" >5</text>
<text transform="translate(173.12,1126.00) scale(0.9389,1)" font-size="72.5" >4</text>
<text transform="translate(173.98,1263.00) scale(0.9412,1)" font-size="72.5" >3</text>
<text transform="translate(172.92,1399.50) scale(0.9697,1)" font-size="72.5" >2</text>
<text transform="translate(175.15,1540.7) scale(0.95,1)" font-size="72.5">1</text>
<text transform="translate(205.67,1585.60) scale(0.9765,1)" font-size="72.5" >0</text>
<text transform="translate(379.07,1585.60) scale(0.9441,1)" font-size="72.5" >5</text>
<text transform="translate(537.98,1585.60) scale(0.9042,1)" font-size="72.5" >10</text>
<text transform="translate(715.15,1585.60) scale(0.9085,1)" font-size="72.5" >15</text>
<text transform="translate(885.06,1585.60) scale(0.9595,1)" font-size="72.5" >20</text>
<text transform="translate(1064.39,1585.60) scale(0.9274,1)" font-size="72.5" >25</text>
<text transform="translate(1239.19,1585.60) scale(0.9027,1)" font-size="72.5" >30</text>
<text transform="translate(1412.35,1585.60) scale(0.9162,1)" font-size="72.5" >35</text>
<text transform="translate(1588.56,1585.60) scale(0.9224,1)" font-size="72.5" >40</text>
<text transform="translate(1762.04,1585.60) scale(0.9320,1)" font-size="72.5" >45</text>
<text transform="translate(1939.99,1585.60) scale(0.9027,1)" font-size="72.5" >50</text>
<text transform="translate(730.84,1665.50) scale(0.9075,1)" font-size="70.5" >The</text>
<text transform="translate(860.70,1665.50) scale(0.9255,1)" font-size="70.5" >number</text>
<text transform="translate(1102.43,1665.50) scale(0.9490,1)" font-size="70.5" >of</text>
<text transform="translate(1178.16,1665.50) scale(0.9334,1)" font-size="70.5" >iterations</text>
<text transform="translate(105.00,1220.19) rotate(-90) scale(0.9403,1)" font-size="70.5" >Energy</text>
<text transform="translate(105.00,985.81) rotate(-90) scale(0.9623,1)" font-size="70.5" >consumption</text>
<text transform="translate(105.00,582.10) rotate(-90) scale(0.9642,1)" font-size="70.5" >value</text>
<text transform="translate(1158.08,258.30) scale(0.9374,1)" font-size="70.5" >Traditional</text>
<text transform="translate(1479.89,258.30) scale(0.9277,1)" font-size="70.5" >model</text>
<text transform="translate(1157.30,346.20) scale(0.9259,1)" font-size="70.5" >Constant</text>
<text transform="translate(1435.38,346.20) scale(0.9299,1)" font-size="70.5" >model</text>
<text transform="translate(1158.38,434.80) scale(0.9631,1)" font-size="70.5" >First</text>
<text transform="translate(1306.91,434.80) scale(0.9567,1)" font-size="70.5" >order</text>
<text transform="translate(1485.18,434.80) scale(0.9475,1)" font-size="70.5" >function</text>
<text transform="translate(1738.51,434.80) scale(0.9233,1)" font-size="70.5" >model</text>
<text transform="translate(1158.57,523.80) scale(0.9375,1)" font-size="70.5" >Quadratic</text>
<text transform="translate(1464.78,523.80) scale(0.9504,1)" font-size="70.5" >function</text>
<text transform="translate(1718.31,523.80) scale(0.9244,1)" font-size="70.5" >model</text></g>
</svg>
</body></html>
